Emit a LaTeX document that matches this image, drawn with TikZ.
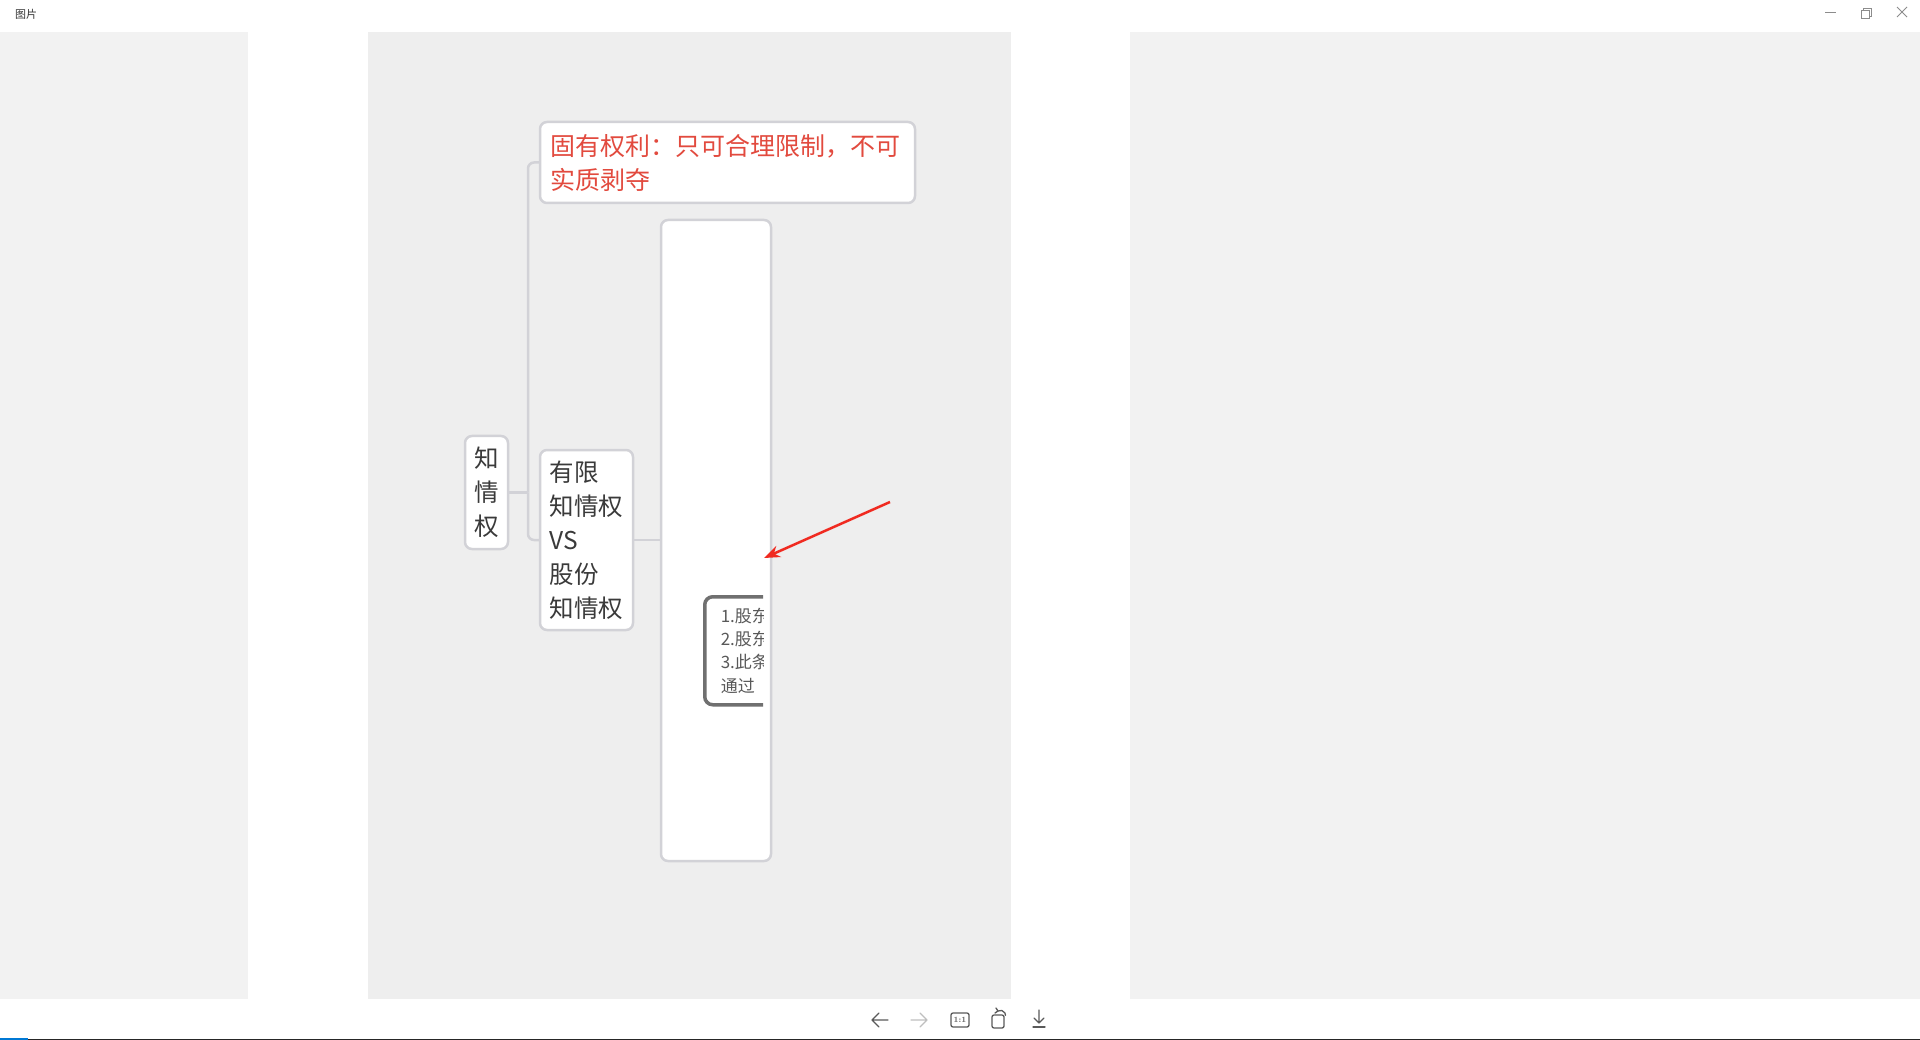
\documentclass[tikz,border=0pt]{standalone}
\usepackage{fontspec}
\newfontfamily\cjk{Noto Sans CJK SC}
\usetikzlibrary{arrows.meta}
\definecolor{panel}{HTML}{F2F2F2}
\definecolor{canvas}{HTML}{EEEEEE}
\definecolor{boxline}{HTML}{D2D2D7}
\definecolor{inktext}{HTML}{3A3A3A}
\definecolor{redtext}{HTML}{E24A3E}
\definecolor{arrowred}{HTML}{F02A20}
\definecolor{brkline}{HTML}{707070}
\definecolor{iconc}{HTML}{5A5A5A}
\definecolor{winblue}{HTML}{0078D4}
\tikzset{
  mbox/.style={draw=boxline, fill=white, line width=2.5pt, rounded corners=7pt, align=left, inner ysep=0pt},
  conn/.style={draw=boxline, line width=2.5pt},
  bigtext/.style={font=\cjk\fontsize{24.5}{34}\selectfont},
  icon/.style={draw=iconc, line width=1.3pt, line cap=round, line join=round},
}
\begin{document}
\begin{tikzpicture}[x=1pt,y=-1pt]
\useasboundingbox (0,0) rectangle (1920,1040);
% window background
\fill[white] (0,0) rectangle (1920,1040);
\fill[panel] (0,32) rectangle (248,999);
\fill[canvas] (368,32) rectangle (1011,999);
\fill[panel] (1130,32) rectangle (1920,999);
\fill[black!85] (0,1038.5) rectangle (1920,1040);
\fill[winblue] (0,1038) rectangle (28,1040);

% title bar
\node[font=\cjk\fontsize{11}{11}\selectfont, text=black!80, anchor=west, inner sep=0pt] (title) at (15,14) {图片};
\draw[draw=black!45, line width=0.8pt] (1825,12) -- (1836,12);
\draw[draw=black!45, line width=0.8pt] (1861,10) rectangle (1869,18);
\draw[draw=black!45, line width=0.8pt] (1863,10) -- (1863,8) -- (1871,8) -- (1871,16) -- (1869,16);
\draw[draw=black!45, line width=0.8pt] (1897,7) -- (1907,17) (1907,7) -- (1897,17);

% mind map
\node[mbox, font=\cjk\fontsize{25}{34}\selectfont, text=redtext, minimum width=375pt, minimum height=81pt,
      text width=355pt, inner xsep=10pt] (red) at (727.5,162.5)
      {固有权利：只可合理限制，不可\\实质剥夺};
\node[mbox, minimum width=110pt, minimum height=641pt] (tall) at (716,540.5) {};
\node[mbox, bigtext, text=inktext, minimum width=43pt, minimum height=113pt,
      text width=25pt, inner xsep=9pt] (root) at (486.5,492.5) {知\\情\\权};
\node[mbox, bigtext, text=inktext, minimum width=93pt, minimum height=180pt,
      text width=74pt, inner xsep=9.5pt] (mid) at (586.5,540)
      {有限\\知情权\\VS\\股份\\知情权};

\coordinate (j) at (528,492.5);
\draw[conn] (root.east) -- (j);
\draw[conn, rounded corners=6pt] (j) |- (red.west);
\draw[conn, rounded corners=6pt] (j) |- (mid.west);
\draw[conn] (mid.east) -- (tall.west |- mid.east);

% clipped detail node
\begin{scope}
  \clip (690,585) rectangle (763,715);
  \node[draw=brkline, line width=3.5pt, rounded corners=8pt, fill=white, anchor=north west,
        minimum width=100pt, minimum height=108pt, text width=80pt, inner xsep=16pt, inner ysep=0pt,
        align=left, text=black!65, font=\cjk\fontsize{17}{23.3}\selectfont] (detail) at (703,595)
        {1.股东\\2.股东\\3.此条\\通过};
\end{scope}

% red arrow
\coordinate (as) at (890,502);
\coordinate (at) at (764,558);
\draw[draw=arrowred, line width=2.5pt, -{Stealth[length=16pt,width=12pt]}] (as) -- (at);

% bottom toolbar
\draw[icon] (888,1020) -- (872,1020) (879,1013) -- (872,1020) -- (879,1027);
\draw[icon, draw=black!25] (911,1020) -- (927,1020) (920,1013) -- (927,1020) -- (920,1027);
\draw[icon, rounded corners=2pt] (951,1013) rectangle (969,1027);
\node[font=\fontsize{8}{8}\selectfont\bfseries, text=iconc, inner sep=0pt] (onetoone) at (960,1020) {1:1};
\draw[icon, rounded corners=2pt] (992,1015) rectangle (1004,1028);
\draw[icon] (998,1011) arc[start angle=120, end angle=0, radius=5pt];
\draw[icon] (996,1008) -- (998,1011) -- (995,1013);
\draw[icon] (1039,1010) -- (1039,1023) (1034,1018) -- (1039,1023) -- (1044,1018);
\draw[icon] (1033,1027) -- (1045,1027);
\end{tikzpicture}
\end{document}
